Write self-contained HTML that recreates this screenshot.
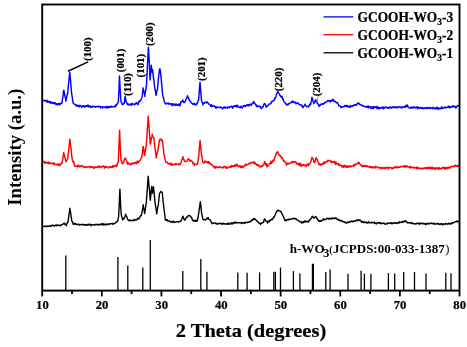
<!DOCTYPE html>
<html><head><meta charset="utf-8"><title>XRD</title>
<style>
html,body{margin:0;padding:0;background:#fff}
body{width:467px;height:347px;position:relative;overflow:hidden}
svg text{font-family:"Liberation Serif","Times New Roman",serif;font-weight:bold;fill:#000}
</style></head><body>
<svg width="467" height="347" viewBox="0 0 467 347" style="position:absolute;left:0;top:0">
<line x1="65.8" y1="255.5" x2="65.8" y2="290.6" stroke="#000" stroke-width="1.3"/>
<line x1="117.9" y1="257.0" x2="117.9" y2="290.6" stroke="#000" stroke-width="1.3"/>
<line x1="127.8" y1="265.4" x2="127.8" y2="290.6" stroke="#000" stroke-width="1.3"/>
<line x1="142.8" y1="267.5" x2="142.8" y2="290.6" stroke="#000" stroke-width="1.3"/>
<line x1="150.3" y1="239.9" x2="150.3" y2="290.6" stroke="#000" stroke-width="1.3"/>
<line x1="182.8" y1="271.1" x2="182.8" y2="290.6" stroke="#000" stroke-width="1.3"/>
<line x1="200.8" y1="258.9" x2="200.8" y2="290.6" stroke="#000" stroke-width="1.3"/>
<line x1="206.9" y1="271.8" x2="206.9" y2="290.6" stroke="#000" stroke-width="1.3"/>
<line x1="237.8" y1="272.4" x2="237.8" y2="290.6" stroke="#000" stroke-width="1.3"/>
<line x1="247.1" y1="272.7" x2="247.1" y2="290.6" stroke="#000" stroke-width="1.3"/>
<line x1="259.6" y1="272.4" x2="259.6" y2="290.6" stroke="#000" stroke-width="1.3"/>
<line x1="273.8" y1="271.8" x2="273.8" y2="290.6" stroke="#000" stroke-width="1.3"/>
<line x1="275.4" y1="271.8" x2="275.4" y2="290.6" stroke="#000" stroke-width="1.3"/>
<line x1="280.5" y1="267.6" x2="280.5" y2="290.6" stroke="#000" stroke-width="1.3"/>
<line x1="293.4" y1="271.1" x2="293.4" y2="290.6" stroke="#000" stroke-width="1.3"/>
<line x1="299.9" y1="273.4" x2="299.9" y2="290.6" stroke="#000" stroke-width="1.3"/>
<line x1="312.9" y1="263.7" x2="312.9" y2="290.6" stroke="#000" stroke-width="2.2"/>
<line x1="325.8" y1="272.0" x2="325.8" y2="290.6" stroke="#000" stroke-width="1.3"/>
<line x1="330.1" y1="269.5" x2="330.1" y2="290.6" stroke="#000" stroke-width="1.3"/>
<line x1="348.0" y1="273.7" x2="348.0" y2="290.6" stroke="#000" stroke-width="1.3"/>
<line x1="361.1" y1="270.8" x2="361.1" y2="290.6" stroke="#000" stroke-width="1.3"/>
<line x1="364.4" y1="273.7" x2="364.4" y2="290.6" stroke="#000" stroke-width="1.3"/>
<line x1="370.9" y1="273.7" x2="370.9" y2="290.6" stroke="#000" stroke-width="1.3"/>
<line x1="388.4" y1="273.1" x2="388.4" y2="290.6" stroke="#000" stroke-width="1.3"/>
<line x1="394.7" y1="273.6" x2="394.7" y2="290.6" stroke="#000" stroke-width="1.3"/>
<line x1="403.7" y1="272.1" x2="403.7" y2="290.6" stroke="#000" stroke-width="1.3"/>
<line x1="414.5" y1="272.1" x2="414.5" y2="290.6" stroke="#000" stroke-width="1.3"/>
<line x1="426.0" y1="273.4" x2="426.0" y2="290.6" stroke="#000" stroke-width="1.3"/>
<line x1="445.8" y1="272.7" x2="445.8" y2="290.6" stroke="#000" stroke-width="1.3"/>
<line x1="451.0" y1="273.3" x2="451.0" y2="290.6" stroke="#000" stroke-width="1.3"/>
<polyline points="43.0,226.5 43.5,226.6 44.0,226.3 44.5,226.1 45.0,226.2 45.5,226.0 46.0,226.4 46.5,226.8 47.0,226.1 47.5,226.0 48.0,226.4 48.5,226.3 49.0,226.2 49.5,225.8 50.0,226.1 50.5,226.4 51.0,225.5 51.5,225.8 52.0,225.2 52.5,225.5 53.0,225.2 53.5,225.8 54.0,225.4 54.5,226.0 55.0,225.9 55.5,225.7 56.0,224.7 56.5,225.5 57.0,225.7 57.5,225.7 58.0,225.0 58.5,225.4 59.0,225.2 59.5,225.2 60.0,225.9 60.2,225.2 60.5,225.3 61.0,225.5 61.5,224.6 62.0,224.6 62.5,224.4 63.0,224.1 63.5,223.4 64.0,223.6 64.2,224.0 64.5,223.1 65.0,224.4 65.5,224.5 66.0,224.5 66.2,225.7 66.5,224.7 67.0,223.1 67.5,222.8 68.0,222.2 68.5,218.2 69.0,214.9 69.5,210.9 69.9,208.3 70.0,209.3 70.5,211.8 71.0,215.6 71.5,218.8 71.8,221.1 72.0,220.9 72.5,222.1 73.0,223.2 73.3,224.3 73.5,224.4 74.0,223.4 74.5,223.7 75.0,224.3 75.5,223.3 76.0,224.0 76.5,224.2 77.0,224.8 77.5,224.6 78.0,224.3 78.5,224.3 79.0,224.4 79.5,225.2 80.0,224.4 80.5,224.5 81.0,224.8 81.5,224.6 82.0,224.6 82.5,224.2 83.0,224.7 83.5,224.5 84.0,225.2 84.5,225.0 85.0,224.7 85.5,225.0 86.0,224.6 86.5,225.2 87.0,224.8 87.5,225.0 88.0,224.3 88.5,225.0 89.0,224.2 89.5,224.1 90.0,224.8 90.4,224.5 90.5,225.0 91.0,225.8 91.5,224.5 92.0,224.6 92.5,224.9 93.0,225.0 93.5,224.7 94.0,224.7 94.5,225.1 95.0,225.0 95.5,224.3 96.0,224.7 96.5,224.7 97.0,224.3 97.5,224.8 98.0,224.3 98.5,225.1 99.0,224.7 99.5,224.7 100.0,224.4 100.5,224.6 101.0,223.8 101.5,224.1 102.0,224.7 102.5,223.7 103.0,224.9 103.5,223.8 104.0,224.8 104.5,224.2 105.0,224.8 105.5,224.5 106.0,223.8 106.5,224.8 107.0,224.9 107.5,224.2 108.0,224.1 108.5,224.1 109.0,223.7 109.5,224.5 110.0,223.8 110.5,223.9 111.0,223.6 111.5,223.6 112.0,223.3 112.5,224.2 113.0,223.6 113.5,224.0 114.0,223.6 114.5,223.2 114.7,223.4 115.0,223.1 115.5,222.9 116.0,222.4 116.5,222.1 117.0,221.3 117.5,221.2 118.0,220.1 118.5,217.1 118.6,216.6 119.0,209.1 119.2,205.6 119.5,197.6 119.9,189.1 120.0,191.2 120.5,202.0 120.6,205.3 121.0,210.7 121.3,215.0 121.5,215.4 122.0,217.6 122.5,219.0 122.7,219.8 123.0,219.1 123.5,218.5 124.0,218.9 124.3,217.8 124.5,217.6 125.0,216.3 125.5,214.9 125.8,214.2 126.0,215.2 126.5,216.2 127.0,217.6 127.5,219.0 128.0,219.9 128.5,220.2 129.0,220.6 129.1,220.3 129.5,219.9 130.0,220.8 130.5,220.7 131.0,220.2 131.5,220.5 132.0,220.5 132.5,220.5 133.0,220.5 133.5,219.9 134.0,220.6 134.5,219.4 135.0,220.1 135.5,219.8 136.0,219.8 136.5,220.0 137.0,219.7 137.5,218.5 138.0,218.2 138.5,219.0 139.0,218.2 139.2,218.5 139.5,218.4 140.0,216.6 140.5,215.7 141.0,215.9 141.5,215.0 142.0,212.1 142.5,209.4 143.0,206.2 143.2,204.8 143.5,207.0 144.0,209.6 144.5,212.2 144.6,213.6 145.0,210.9 145.5,208.1 146.0,204.4 146.3,202.7 146.5,199.8 147.0,192.7 147.5,186.1 148.0,178.6 148.2,176.2 148.5,179.7 149.0,186.1 149.5,190.5 150.0,197.2 150.3,200.3 150.5,198.3 151.0,192.7 151.5,188.0 151.7,186.5 152.0,188.8 152.5,193.2 153.0,189.6 153.5,186.7 154.0,191.8 154.5,196.5 155.0,202.7 155.5,205.3 156.0,207.8 156.5,212.0 156.7,213.9 157.0,211.8 157.5,208.7 158.0,206.2 158.3,205.5 158.5,203.1 159.0,198.3 159.5,193.5 160.0,192.7 160.5,192.3 161.0,191.4 161.5,192.0 162.0,192.2 162.3,193.2 162.5,194.7 163.0,200.4 163.5,204.5 163.8,207.9 164.0,209.4 164.5,212.5 165.0,217.3 165.4,220.1 165.5,219.4 166.0,220.2 166.5,220.3 167.0,219.4 167.5,220.8 168.0,221.0 168.5,221.1 169.0,220.8 169.5,221.2 170.0,221.3 170.5,222.0 171.0,221.7 171.5,221.7 172.0,222.4 172.5,221.7 173.0,221.7 173.5,221.1 174.0,222.5 174.5,222.2 175.0,222.1 175.5,222.0 176.0,221.8 176.5,221.8 177.0,221.6 177.5,221.6 178.0,221.6 178.5,222.2 179.0,221.8 179.5,221.5 180.0,221.3 180.5,221.2 181.0,221.1 181.5,219.7 182.0,218.5 182.5,217.4 183.0,216.1 183.5,217.7 184.0,219.3 184.5,220.1 184.6,220.4 185.0,219.8 185.5,219.2 186.0,217.8 186.5,217.6 187.0,216.7 187.5,216.9 188.0,215.7 188.5,215.7 189.0,215.6 189.5,215.4 190.0,215.8 190.5,216.6 191.0,217.0 191.5,217.4 192.0,218.8 192.5,220.2 193.0,220.1 193.5,220.9 193.6,220.7 194.0,221.2 194.5,220.5 195.0,220.4 195.5,221.3 196.0,220.3 196.5,221.1 197.0,221.2 197.3,220.6 197.5,219.7 198.0,217.8 198.5,214.4 198.8,212.8 199.0,210.9 199.5,207.6 200.0,204.2 200.3,201.7 200.5,202.7 201.0,207.3 201.5,211.9 201.6,213.1 202.0,214.8 202.5,217.2 203.0,219.6 203.1,219.8 203.5,219.8 204.0,219.7 204.5,219.5 205.0,219.6 205.5,220.0 206.0,219.3 206.5,219.0 207.0,218.1 207.5,218.8 208.0,217.7 208.4,217.8 208.5,218.9 209.0,219.4 209.5,219.7 210.0,219.7 210.5,220.8 211.0,221.3 211.5,222.4 212.0,223.7 212.5,223.5 213.0,223.1 213.5,223.0 214.0,223.4 214.5,223.4 215.0,223.0 215.5,223.6 216.0,223.1 216.5,224.0 217.0,224.0 217.5,224.0 218.0,223.4 218.5,223.8 219.0,223.6 219.5,223.5 220.0,223.6 220.5,223.2 221.0,223.2 221.5,224.1 222.0,223.7 222.5,223.9 223.0,224.2 223.5,223.1 224.0,223.5 224.5,223.9 225.0,224.0 225.5,223.8 226.0,224.3 226.5,224.0 227.0,223.5 227.5,223.6 227.8,224.3 228.0,224.1 228.5,223.1 229.0,224.3 229.5,223.9 230.0,224.1 230.5,223.3 231.0,223.2 231.5,222.8 232.0,224.2 232.5,223.0 233.0,223.6 233.5,222.6 234.0,222.8 234.5,222.0 234.8,222.4 235.0,223.0 235.5,222.2 236.0,223.1 236.5,222.9 237.0,222.4 237.5,222.6 238.0,222.7 238.5,222.9 239.0,222.7 239.5,222.7 240.0,222.9 240.5,222.7 241.0,222.6 241.5,223.2 241.8,223.6 242.0,222.6 242.5,223.1 243.0,222.8 243.5,222.5 244.0,223.2 244.5,222.6 245.0,223.3 245.5,222.3 246.0,222.7 246.5,222.4 247.0,222.1 247.5,222.6 248.0,222.2 248.5,222.4 249.0,222.1 249.5,221.6 249.6,222.0 250.0,221.8 250.5,221.8 251.0,220.7 251.5,220.8 252.0,219.8 252.5,220.4 253.0,219.4 253.5,218.8 254.0,219.2 254.3,219.4 254.5,218.5 255.0,219.1 255.5,219.6 256.0,219.8 256.5,220.8 257.0,220.7 257.5,221.2 258.0,222.3 258.5,222.2 259.0,223.2 259.5,223.2 259.9,223.5 260.0,223.2 260.5,224.5 261.0,223.3 261.5,223.3 262.0,223.0 262.5,222.8 263.0,222.5 263.5,222.3 264.0,220.1 264.5,218.9 264.6,218.9 265.0,219.2 265.5,220.7 266.0,221.3 266.5,221.2 267.0,221.6 267.4,222.5 267.5,223.1 268.0,221.0 268.5,222.0 269.0,221.0 269.5,221.5 270.0,220.3 270.5,220.2 271.0,219.4 271.5,219.2 272.0,219.8 272.5,219.2 273.0,218.3 273.5,217.8 273.8,217.1 274.0,217.3 274.5,216.4 275.0,215.3 275.5,214.2 276.0,212.7 276.5,212.0 277.0,211.0 277.4,210.6 277.5,210.9 278.0,210.3 278.5,210.3 279.0,210.9 279.5,210.9 280.0,211.1 280.5,211.6 281.0,211.4 281.3,212.2 281.5,212.4 282.0,213.7 282.5,214.7 283.0,215.7 283.5,216.8 284.0,218.3 284.5,219.3 285.0,220.8 285.5,220.6 286.0,219.9 286.5,220.4 287.0,219.7 287.5,219.9 288.0,219.9 288.5,219.0 289.0,219.8 289.5,219.7 290.0,219.4 290.5,219.2 291.0,219.1 291.5,218.8 292.0,218.9 292.5,218.7 293.0,218.8 293.5,218.2 294.0,218.7 294.5,218.5 294.7,218.3 295.0,218.4 295.5,219.1 296.0,218.5 296.5,219.7 297.0,219.9 297.5,220.2 298.0,220.5 298.5,220.4 299.0,220.9 299.5,221.5 300.0,221.8 300.5,222.0 301.0,221.6 301.5,222.7 301.7,223.1 302.0,222.9 302.5,222.5 303.0,221.7 303.5,222.6 304.0,222.1 304.5,221.0 305.0,222.1 305.5,221.2 306.0,221.2 306.5,221.4 307.0,222.0 307.5,221.3 308.0,221.4 308.5,221.9 308.6,221.8 309.0,220.8 309.5,220.3 310.0,219.4 310.5,219.2 311.0,218.7 311.5,217.7 312.0,216.6 312.2,216.6 312.5,216.2 313.0,217.0 313.5,217.8 314.0,218.2 314.5,218.0 315.0,217.2 315.5,216.5 315.6,216.6 316.0,216.7 316.5,217.2 317.0,218.8 317.5,219.3 318.0,220.2 318.5,220.1 319.0,221.4 319.2,221.6 319.5,221.3 320.0,220.5 320.5,221.1 321.0,221.3 321.5,220.9 322.0,220.2 322.5,220.2 323.0,220.3 323.5,218.7 324.0,219.5 324.5,219.6 325.0,219.4 325.5,219.6 326.0,219.2 326.5,218.6 326.7,218.5 327.0,218.7 327.5,218.2 328.0,218.4 328.5,218.7 329.0,219.2 329.5,218.3 330.0,218.3 330.5,218.4 331.0,218.9 331.5,218.3 332.0,218.9 332.5,217.9 333.0,218.3 333.5,218.2 334.0,218.6 334.5,218.7 335.0,217.7 335.5,217.9 335.7,218.4 336.0,218.2 336.5,218.1 337.0,219.4 337.5,219.4 338.0,219.7 338.5,219.5 339.0,220.4 339.5,220.1 340.0,220.9 340.5,220.3 341.0,220.5 341.5,221.1 342.0,220.9 342.5,221.7 343.0,221.7 343.5,221.4 344.0,222.0 344.5,222.0 345.0,222.7 345.2,222.1 345.5,222.2 346.0,222.8 346.5,223.1 347.0,223.0 347.5,222.2 348.0,222.2 348.5,222.6 349.0,221.9 349.5,221.5 350.0,221.9 350.5,222.0 351.0,221.4 351.5,221.0 352.0,221.0 352.5,221.8 353.0,221.2 353.5,221.3 354.0,221.3 354.5,221.3 355.0,220.8 355.5,221.0 356.0,220.3 356.5,220.4 357.0,220.0 357.5,220.7 358.0,220.1 358.5,219.7 358.7,219.8 359.0,220.0 359.5,220.6 360.0,219.9 360.5,220.4 361.0,220.9 361.5,222.3 362.0,221.9 362.5,221.5 363.0,222.0 363.5,222.6 364.0,221.8 364.5,221.8 365.0,222.5 365.5,222.3 366.0,222.5 366.5,222.1 367.0,223.1 367.2,223.1 367.5,222.6 368.0,222.7 368.5,221.7 369.0,222.8 369.5,222.5 370.0,222.8 370.5,222.9 371.0,222.6 371.5,222.1 372.0,222.9 372.5,222.5 373.0,222.7 373.5,222.6 374.0,222.8 374.5,222.0 375.0,223.5 375.5,223.1 376.0,223.5 376.5,223.9 377.0,223.2 377.5,222.5 378.0,222.9 378.5,222.8 379.0,223.1 379.5,223.4 380.0,222.6 380.5,223.6 381.0,222.9 381.5,223.6 382.0,223.5 382.5,223.4 382.9,223.6 383.0,223.4 383.5,223.3 384.0,222.9 384.5,223.5 385.0,224.2 385.5,224.3 386.0,224.0 386.5,223.7 387.0,223.1 387.5,223.9 388.0,223.3 388.5,223.3 389.0,223.2 389.5,223.3 390.0,223.0 390.5,223.2 391.0,222.7 391.5,223.0 392.0,224.0 392.5,223.1 393.0,223.0 393.5,223.3 394.0,223.3 394.5,222.5 395.0,222.9 395.5,223.3 396.0,223.0 396.5,222.9 397.0,223.5 397.5,222.6 398.0,222.8 398.5,222.5 399.0,223.2 399.5,221.7 400.0,222.1 400.5,222.1 401.0,222.5 401.5,222.3 402.0,222.5 402.5,221.3 403.0,222.1 403.5,221.6 404.0,221.3 404.5,221.7 404.9,221.0 405.0,220.6 405.5,221.5 406.0,221.2 406.5,221.8 407.0,222.4 407.5,222.5 408.0,223.2 408.5,222.7 409.0,222.4 409.5,222.8 410.0,222.7 410.5,222.7 411.0,223.4 411.5,223.0 412.0,222.5 412.5,223.7 413.0,223.4 413.5,223.6 414.0,223.6 414.4,223.9 414.5,223.6 415.0,224.1 415.5,223.8 416.0,223.8 416.5,223.8 417.0,223.1 417.5,223.6 418.0,223.5 418.5,223.7 419.0,223.1 419.5,224.3 420.0,223.7 420.5,223.2 421.0,223.0 421.5,223.6 422.0,223.7 422.5,223.4 423.0,223.7 423.5,223.5 424.0,223.9 424.5,223.4 425.0,223.7 425.5,224.1 426.0,224.8 426.5,223.4 427.0,223.6 427.5,223.4 428.0,224.1 428.5,223.3 429.0,223.6 429.5,223.8 430.0,223.4 430.5,223.4 431.0,223.6 431.5,223.0 432.0,223.2 432.5,223.7 433.0,223.9 433.5,223.8 434.0,223.1 434.5,223.7 435.0,224.2 435.5,224.1 436.0,223.8 436.5,223.5 437.0,224.1 437.5,223.7 438.0,223.4 438.5,223.6 439.0,224.5 439.5,224.0 440.0,224.4 440.5,223.7 441.0,224.3 441.5,223.7 442.0,223.9 442.5,225.0 443.0,224.3 443.5,223.8 444.0,223.9 444.5,224.1 445.0,224.5 445.5,223.8 445.8,223.3 446.0,223.9 446.5,223.9 447.0,223.9 447.5,224.3 448.0,223.8 448.5,223.9 449.0,223.0 449.5,223.8 450.0,224.2 450.5,223.6 451.0,223.3 451.5,223.1 452.0,223.7 452.5,222.5 453.0,222.6 453.5,222.7 454.0,222.6 454.5,222.0 455.0,222.1 455.5,221.7 456.0,221.7 456.5,221.4 456.8,220.9 457.0,221.4 457.5,221.9 458.0,221.2 458.5,221.6 459.0,222.1" fill="none" stroke="#000" stroke-width="1.4" stroke-linejoin="round"/>
<polyline points="43.0,161.0 43.5,161.8 44.0,161.2 44.5,162.5 45.0,163.3 45.5,163.2 46.0,162.1 46.5,162.7 47.0,162.5 47.5,162.6 48.0,163.5 48.5,162.0 49.0,163.4 49.5,162.9 50.0,163.8 50.5,163.2 51.0,162.8 51.5,163.5 52.0,163.8 52.5,163.5 53.0,163.9 53.5,163.4 54.0,162.6 54.5,164.4 55.0,164.4 55.5,164.2 56.0,164.3 56.5,164.9 57.0,164.2 57.5,164.1 58.0,164.5 58.5,165.4 59.0,164.1 59.3,165.6 59.5,164.4 60.0,163.9 60.5,165.0 61.0,164.0 61.5,163.0 62.0,163.3 62.5,160.7 63.0,157.6 63.5,153.5 63.7,152.6 64.0,154.0 64.5,155.4 65.0,158.0 65.5,159.9 66.0,161.7 66.5,160.6 67.0,159.8 67.5,158.7 67.8,157.7 68.0,155.9 68.5,152.1 69.0,147.0 69.5,142.7 69.9,139.2 70.0,139.8 70.5,145.3 71.0,148.3 71.5,153.8 72.0,157.8 72.5,160.5 73.0,161.9 73.5,161.3 74.0,163.3 74.5,165.7 74.7,166.3 75.0,166.3 75.5,165.9 76.0,166.3 76.5,166.4 77.0,166.1 77.5,166.7 78.0,164.9 78.5,166.6 79.0,165.7 79.5,166.8 80.0,166.2 80.5,165.9 81.0,166.7 81.5,166.0 82.0,166.0 82.5,165.7 83.0,166.6 83.5,166.9 84.0,167.3 84.5,166.7 85.0,167.4 85.5,166.8 86.0,166.8 86.5,167.2 87.0,167.4 87.5,166.7 88.0,166.8 88.5,166.8 89.0,167.0 89.5,166.4 90.0,167.5 90.5,166.8 91.0,167.2 91.5,166.5 92.0,167.2 92.5,167.2 93.0,166.8 93.5,168.2 94.0,167.3 94.5,168.1 95.0,167.6 95.5,166.8 96.0,166.9 96.5,167.4 97.0,167.2 97.5,167.2 97.8,167.0 98.0,166.2 98.5,167.1 99.0,166.0 99.5,167.4 100.0,166.8 100.5,166.8 101.0,167.0 101.5,167.3 102.0,166.3 102.5,166.2 103.0,166.5 103.5,166.0 104.0,166.6 104.5,168.0 105.0,166.5 105.5,167.4 106.0,166.3 106.5,167.2 107.0,166.9 107.5,167.0 108.0,167.3 108.5,168.0 109.0,167.1 109.5,167.1 110.0,166.5 110.5,167.2 111.0,166.7 111.5,167.2 112.0,166.6 112.5,167.5 113.0,165.4 113.5,166.2 114.0,166.8 114.5,166.0 115.0,165.7 115.5,165.9 116.0,165.2 116.1,166.0 116.5,166.7 117.0,165.3 117.5,163.4 118.0,162.8 118.2,162.8 118.5,157.1 118.9,147.5 119.0,145.0 119.5,132.9 119.6,130.3 120.0,140.0 120.3,147.4 120.5,150.7 121.0,160.1 121.5,160.4 122.0,163.2 122.5,163.7 123.0,163.1 123.5,162.7 124.0,161.2 124.5,158.8 125.0,158.7 125.2,158.4 125.5,158.1 126.0,159.3 126.5,161.0 127.0,161.4 127.5,164.3 128.0,162.4 128.5,163.3 129.0,163.9 129.5,164.1 130.0,164.6 130.1,164.6 130.5,164.3 131.0,164.8 131.5,162.9 132.0,163.9 132.5,163.4 133.0,163.7 133.5,163.6 134.0,162.8 134.5,162.8 135.0,163.4 135.5,163.0 136.0,162.1 136.5,163.4 137.0,163.3 137.5,161.0 138.0,161.7 138.5,162.7 139.0,161.5 139.5,161.0 140.0,160.5 140.2,160.2 140.5,159.6 141.0,158.2 141.5,157.7 142.0,155.8 142.5,151.8 143.0,147.3 143.2,146.4 143.5,147.8 144.0,151.4 144.5,155.3 144.6,155.6 145.0,153.2 145.5,150.1 146.0,146.9 146.3,144.9 146.5,141.8 147.0,134.8 147.5,126.2 148.0,119.9 148.2,116.1 148.5,119.7 149.0,126.6 149.5,133.2 150.0,140.4 150.3,143.9 150.5,144.0 151.0,140.7 151.5,137.7 152.0,136.2 152.3,134.2 152.5,135.7 153.0,137.2 153.5,137.9 153.9,137.6 154.0,138.8 154.5,144.6 155.0,148.2 155.5,151.3 156.0,155.1 156.3,157.8 156.5,156.4 157.0,153.9 157.5,152.1 158.0,150.3 158.5,146.3 159.0,142.8 159.5,140.0 160.0,139.1 160.5,139.2 161.0,139.0 161.5,140.9 162.0,139.8 162.5,140.9 163.0,145.2 163.5,149.9 164.0,154.6 164.5,156.4 165.0,158.9 165.4,160.6 165.5,161.1 166.0,162.3 166.5,162.4 167.0,162.2 167.5,162.9 168.0,163.5 168.5,163.9 169.0,163.5 169.5,163.8 170.0,163.1 170.5,163.6 171.0,165.3 171.5,163.4 172.0,164.6 172.5,165.0 173.0,164.6 173.5,164.3 174.0,164.7 174.5,164.7 175.0,164.6 175.5,163.5 176.0,164.4 176.5,163.9 177.0,164.1 177.5,164.4 178.0,164.6 178.5,164.7 179.0,163.8 179.5,164.6 180.0,164.6 180.5,163.5 181.0,162.6 181.5,160.7 182.0,159.6 182.5,159.0 183.0,156.7 183.5,158.9 184.0,159.7 184.5,161.0 185.0,161.5 185.5,161.5 186.0,161.5 186.5,161.6 187.0,161.2 187.5,160.1 188.0,159.6 188.5,158.7 188.6,159.3 189.0,159.3 189.5,160.1 190.0,161.2 190.5,160.6 191.0,160.2 191.5,161.1 192.0,161.3 192.5,161.9 193.0,163.8 193.5,163.8 194.0,163.3 194.5,165.0 194.7,165.6 195.0,164.6 195.5,164.1 196.0,164.1 196.5,164.2 197.0,164.1 197.5,164.2 198.0,160.9 198.5,157.6 198.8,155.7 199.0,153.1 199.5,146.2 200.0,141.4 200.1,140.5 200.5,144.3 201.0,150.3 201.5,154.8 202.0,156.8 202.5,160.5 203.0,162.4 203.1,162.6 203.5,163.0 204.0,163.0 204.5,162.6 205.0,161.0 205.5,161.9 206.0,162.0 206.5,161.6 207.0,162.2 207.5,162.7 208.0,161.8 208.4,161.4 208.5,163.2 209.0,162.3 209.5,162.3 210.0,163.5 210.5,164.1 211.0,163.9 211.5,165.1 212.0,164.9 212.5,165.1 213.0,166.1 213.5,166.9 213.9,166.5 214.0,167.0 214.5,166.8 215.0,168.4 215.5,166.5 216.0,167.6 216.5,166.9 217.0,166.8 217.5,167.3 218.0,167.4 218.5,167.7 219.0,167.2 219.5,166.7 220.0,166.7 220.5,167.3 221.0,167.4 221.5,167.8 222.0,167.3 222.5,167.7 223.0,168.0 223.5,167.2 224.0,166.3 224.5,166.5 225.0,166.4 225.5,168.1 226.0,166.8 226.5,167.9 227.0,167.6 227.5,168.2 227.8,167.9 228.0,167.2 228.5,167.0 229.0,167.1 229.5,167.0 230.0,166.5 230.5,166.7 231.0,167.5 231.5,165.5 232.0,166.5 232.5,165.7 233.0,166.2 233.5,166.5 234.0,165.9 234.5,166.2 235.0,164.8 235.5,166.2 236.0,165.1 236.2,165.7 236.5,165.6 237.0,164.2 237.5,165.3 238.0,166.0 238.5,166.8 239.0,166.3 239.5,166.4 240.0,165.6 240.5,167.3 241.0,167.6 241.5,166.7 241.8,166.7 242.0,165.8 242.5,167.0 243.0,167.7 243.5,166.4 244.0,166.5 244.5,165.9 245.0,164.8 245.5,165.8 246.0,164.2 246.5,164.5 246.8,164.7 247.0,164.9 247.5,164.6 248.0,164.4 248.5,163.7 249.0,163.2 249.5,163.8 250.0,163.3 250.5,162.8 251.0,162.7 251.5,163.0 252.0,162.2 252.5,162.3 253.0,162.0 253.5,162.9 254.0,162.9 254.3,163.7 254.5,161.9 255.0,162.8 255.5,164.0 256.0,163.8 256.5,164.1 257.0,165.6 257.5,164.8 258.0,164.7 258.5,165.0 259.0,166.3 259.5,166.7 259.9,166.0 260.0,166.2 260.5,166.9 261.0,166.8 261.5,166.0 262.0,166.6 262.5,166.4 263.0,165.0 263.5,164.8 264.0,164.1 264.5,162.5 264.6,161.4 265.0,162.9 265.5,164.1 266.0,165.1 266.5,163.6 267.0,166.9 267.4,165.3 267.5,166.3 268.0,166.0 268.5,165.4 269.0,164.5 269.5,163.3 270.0,163.8 270.5,162.6 271.0,161.1 271.5,163.5 272.0,161.9 272.5,162.0 273.0,160.1 273.5,160.9 273.8,160.7 274.0,160.2 274.5,158.3 275.0,156.5 275.5,156.0 276.0,153.8 276.5,153.0 277.0,152.9 277.4,151.5 277.5,152.0 278.0,152.7 278.5,154.5 279.0,154.8 279.5,154.8 280.0,156.1 280.5,155.7 281.0,156.6 281.5,158.0 282.0,157.5 282.2,158.2 282.5,158.1 283.0,159.6 283.5,161.1 284.0,160.4 284.5,161.7 285.0,161.7 285.5,162.3 286.0,162.9 286.3,164.8 286.5,165.3 287.0,164.1 287.5,163.3 288.0,164.0 288.5,163.3 289.0,163.8 289.5,163.4 290.0,163.3 290.5,163.3 291.0,162.6 291.5,162.5 292.0,161.7 292.5,162.3 293.0,161.6 293.5,162.2 294.0,161.6 294.5,162.1 294.7,162.2 295.0,161.4 295.5,161.9 296.0,162.1 296.5,163.3 297.0,164.1 297.5,163.8 298.0,163.4 298.5,164.7 299.0,163.3 299.5,165.2 300.0,164.2 300.5,163.3 301.0,166.5 301.5,166.2 301.7,164.8 302.0,165.5 302.5,165.2 303.0,165.3 303.5,164.4 304.0,164.8 304.5,165.4 305.0,165.2 305.5,165.7 306.0,165.1 306.5,166.3 307.0,164.5 307.5,165.0 308.0,163.8 308.5,164.1 308.6,165.5 309.0,163.9 309.5,164.2 310.0,163.4 310.5,162.4 311.0,161.0 311.5,159.2 312.0,157.4 312.2,157.4 312.5,158.2 313.0,158.9 313.5,160.1 314.0,162.2 314.2,162.5 314.5,162.4 315.0,162.1 315.5,159.8 316.0,158.1 316.1,157.8 316.5,158.3 317.0,159.4 317.5,160.5 318.0,161.9 318.5,163.0 319.0,164.8 319.2,164.6 319.5,164.5 320.0,163.8 320.5,165.1 321.0,164.2 321.5,164.7 322.0,163.9 322.5,164.1 323.0,162.9 323.5,163.2 324.0,164.0 324.5,161.7 325.0,162.7 325.5,162.8 326.0,161.9 326.5,161.8 327.0,161.9 327.5,160.6 327.9,161.0 328.0,160.3 328.5,160.5 329.0,160.7 329.5,161.0 330.0,161.3 330.5,161.6 331.0,160.6 331.5,162.7 332.0,162.3 332.5,162.2 333.0,161.7 333.5,161.9 334.0,162.4 334.2,162.3 334.5,161.3 335.0,162.9 335.5,164.4 336.0,162.0 336.5,163.8 337.0,163.7 337.5,163.7 338.0,164.8 338.5,163.6 339.0,164.6 339.5,165.6 340.0,164.9 340.5,165.0 341.0,165.6 341.5,165.5 342.0,166.9 342.5,165.7 343.0,167.0 343.5,166.0 343.6,167.2 344.0,166.7 344.5,165.3 345.0,166.7 345.5,166.0 346.0,166.3 346.5,167.4 347.0,165.8 347.5,165.8 348.0,167.2 348.5,166.4 349.0,167.2 349.5,166.4 350.0,165.7 350.5,166.1 351.0,166.8 351.5,166.6 352.0,166.0 352.5,165.8 353.0,165.5 353.5,165.0 354.0,166.2 354.5,164.9 355.0,164.0 355.5,164.2 356.0,164.6 356.5,164.3 357.0,163.7 357.5,163.2 358.0,163.3 358.5,162.1 358.7,162.3 359.0,163.7 359.5,163.3 360.0,164.2 360.5,165.1 361.0,165.1 361.5,165.1 362.0,166.7 362.5,166.0 363.0,165.5 363.5,166.3 364.0,166.2 364.5,165.6 365.0,166.3 365.5,166.3 366.0,165.4 366.5,166.5 367.0,166.6 367.2,166.6 367.5,165.9 368.0,166.7 368.5,166.9 369.0,167.0 369.5,166.3 370.0,167.4 370.5,166.4 371.0,167.0 371.5,167.9 372.0,166.8 372.5,166.9 373.0,167.9 373.5,167.1 374.0,167.2 374.5,167.5 375.0,168.0 375.5,166.2 376.0,167.0 376.5,166.9 377.0,166.9 377.5,167.1 378.0,167.2 378.5,167.8 379.0,167.2 379.5,167.8 380.0,168.0 380.5,167.4 381.0,167.9 381.5,168.8 382.0,168.1 382.5,167.6 382.9,168.0 383.0,167.5 383.5,168.1 384.0,168.4 384.5,167.5 385.0,167.8 385.5,168.5 386.0,167.6 386.5,168.0 387.0,167.3 387.5,167.4 388.0,167.5 388.5,169.0 389.0,167.6 389.5,167.5 390.0,167.5 390.5,167.7 391.0,168.1 391.5,167.8 392.0,168.8 392.5,167.8 393.0,168.5 393.5,167.8 394.0,168.0 394.5,166.8 395.0,167.5 395.5,167.5 396.0,167.4 396.5,166.4 397.0,168.0 397.5,167.3 398.0,167.3 398.5,167.3 399.0,167.2 399.5,167.4 400.0,166.4 400.5,166.5 401.0,167.1 401.5,166.9 402.0,166.5 402.5,166.3 403.0,166.1 403.5,166.4 404.0,167.0 404.5,165.7 404.9,167.0 405.0,166.7 405.5,166.1 406.0,167.0 406.5,165.9 407.0,165.9 407.5,166.3 408.0,167.0 408.5,167.2 409.0,167.2 409.5,167.6 410.0,166.4 410.5,167.9 411.0,166.9 411.5,167.4 412.0,167.6 412.5,167.2 413.0,167.1 413.5,167.4 414.0,168.0 414.4,168.3 414.5,168.3 415.0,167.5 415.5,167.6 416.0,167.5 416.5,168.3 417.0,166.9 417.5,168.7 418.0,167.8 418.5,167.6 419.0,168.3 419.5,168.6 420.0,168.3 420.5,168.7 421.0,168.2 421.5,168.8 422.0,168.8 422.5,168.1 423.0,168.9 423.5,168.2 424.0,168.2 424.5,167.7 425.0,168.0 425.5,168.6 426.0,167.5 426.5,168.6 427.0,168.4 427.5,168.4 428.0,167.0 428.5,168.2 429.0,168.6 429.5,167.8 430.0,168.3 430.5,166.9 431.0,168.6 431.5,167.9 432.0,168.8 432.5,167.3 433.0,168.7 433.5,168.2 434.0,168.8 434.5,167.8 435.0,168.0 435.5,169.6 436.0,167.9 436.5,168.0 437.0,168.2 437.5,167.8 438.0,169.0 438.5,169.3 439.0,168.0 439.5,167.5 440.0,169.0 440.5,168.9 441.0,168.7 441.5,168.9 442.0,167.7 442.5,168.1 443.0,167.3 443.5,167.3 444.0,168.6 444.5,167.6 445.0,169.2 445.5,167.9 446.0,167.5 446.5,168.2 447.0,168.7 447.5,168.0 448.0,167.0 448.5,167.8 449.0,168.3 449.5,167.3 450.0,167.1 450.5,167.9 451.0,167.2 451.5,166.4 452.0,166.6 452.5,166.2 453.0,166.6 453.5,166.4 454.0,166.8 454.5,166.4 455.0,164.9 455.5,165.9 455.9,166.0 456.0,165.8 456.5,166.3 457.0,165.6 457.5,165.5 458.0,166.7 458.5,165.8 459.0,165.3" fill="none" stroke="#f00" stroke-width="1.45" stroke-linejoin="round"/>
<polyline points="43.0,101.4 43.5,100.5 44.0,100.8 44.5,100.3 45.0,100.5 45.5,100.7 46.0,101.2 46.5,101.7 47.0,100.3 47.5,102.1 48.0,101.1 48.5,101.3 49.0,102.4 49.5,102.1 50.0,101.4 50.5,103.3 51.0,101.9 51.5,102.6 52.0,102.7 52.5,103.5 53.0,102.6 53.5,103.5 54.0,102.6 54.5,103.7 55.0,102.8 55.5,103.1 56.0,104.5 56.5,103.7 57.0,103.7 57.5,104.9 58.0,104.0 58.5,103.5 59.0,104.4 59.5,103.5 59.9,104.8 60.0,104.8 60.5,103.5 61.0,103.2 61.5,103.4 62.0,103.0 62.5,99.0 63.0,96.3 63.5,91.4 63.8,90.2 64.0,91.2 64.5,93.7 65.0,96.5 65.5,98.1 65.9,101.1 66.0,100.3 66.5,98.0 67.0,95.6 67.5,93.7 67.6,94.2 68.0,89.2 68.5,84.3 69.0,79.5 69.5,74.1 69.7,72.3 70.0,74.6 70.5,79.9 71.0,86.7 71.5,92.0 71.6,93.6 72.0,95.5 72.5,99.3 73.0,102.2 73.2,103.4 73.5,103.5 74.0,103.8 74.5,104.1 75.0,104.4 75.5,105.2 76.0,104.7 76.5,106.1 77.0,105.2 77.5,105.9 78.0,105.5 78.5,105.5 79.0,106.9 79.5,105.7 80.0,105.3 80.5,105.6 81.0,105.9 81.5,107.2 82.0,106.2 82.5,106.6 83.0,105.6 83.5,106.3 84.0,106.5 84.5,107.2 85.0,105.8 85.5,106.5 86.0,106.4 86.5,105.7 87.0,106.3 87.5,106.1 88.0,105.0 88.5,106.7 89.0,106.7 89.5,106.1 90.0,105.7 90.5,107.2 91.0,106.6 91.5,107.0 92.0,107.2 92.5,106.2 93.0,107.0 93.5,106.4 94.0,106.5 94.5,106.5 95.0,106.6 95.5,107.2 96.0,106.7 96.5,106.6 97.0,106.5 97.5,106.9 98.0,106.2 98.5,106.4 99.0,106.7 99.5,106.5 100.0,106.7 100.4,106.5 100.5,107.9 101.0,107.5 101.5,107.1 102.0,106.8 102.5,108.0 103.0,107.0 103.5,106.8 104.0,107.0 104.5,107.0 105.0,107.6 105.5,106.9 106.0,108.0 106.5,106.4 107.0,107.3 107.5,106.4 108.0,107.9 108.5,106.7 109.0,106.9 109.5,107.4 110.0,107.6 110.5,106.3 111.0,106.8 111.5,106.2 112.0,107.0 112.5,106.9 113.0,106.8 113.5,106.6 114.0,106.8 114.5,106.2 115.0,106.6 115.5,106.8 116.0,104.6 116.2,105.4 116.5,104.8 117.0,104.6 117.5,103.1 118.0,102.8 118.3,101.9 118.5,99.0 118.9,91.1 119.0,88.4 119.5,75.9 120.0,86.5 120.2,90.1 120.5,95.3 121.0,101.7 121.5,102.3 122.0,103.8 122.5,104.8 123.0,104.4 123.5,103.5 124.0,103.7 124.4,102.8 124.5,100.9 125.0,97.4 125.2,96.3 125.5,98.2 126.0,100.5 126.2,102.5 126.5,102.3 127.0,103.1 127.5,104.5 128.0,103.8 128.5,104.4 129.0,104.9 129.5,105.0 130.0,104.3 130.5,104.4 131.0,103.8 131.5,105.2 132.0,104.5 132.5,103.4 133.0,104.0 133.5,104.3 134.0,104.1 134.5,104.8 135.0,104.4 135.5,103.3 136.0,103.5 136.5,102.7 137.0,103.5 137.5,103.4 138.0,104.7 138.5,102.8 139.0,101.1 139.5,101.4 140.0,101.4 140.5,100.2 141.0,99.9 141.5,98.5 142.0,97.2 142.3,95.9 142.5,93.6 143.0,89.6 143.1,87.9 143.5,89.8 144.0,91.6 144.5,94.2 144.8,96.4 145.0,93.8 145.5,91.4 146.0,88.6 146.5,84.8 147.0,75.0 147.5,64.2 148.0,55.4 148.4,47.2 148.5,48.6 149.0,57.1 149.5,67.0 150.0,77.6 150.1,79.9 150.5,74.7 151.0,69.6 151.3,65.2 151.5,67.3 152.0,72.0 152.5,71.2 152.7,69.7 153.0,73.6 153.5,78.1 153.8,79.4 154.0,80.9 154.5,86.0 155.0,89.6 155.5,91.2 156.0,95.4 156.5,92.8 157.0,90.1 157.5,89.2 158.0,83.1 158.5,77.6 158.8,75.1 159.0,73.1 159.5,70.0 159.8,68.7 160.0,69.3 160.5,72.1 160.8,74.9 161.0,76.7 161.5,82.2 161.7,84.3 162.0,87.6 162.5,93.7 162.6,94.0 163.0,96.9 163.5,97.7 164.0,100.4 164.3,101.2 164.5,102.0 165.0,102.9 165.5,103.9 166.0,103.2 166.5,103.7 167.0,103.6 167.5,103.4 168.0,103.2 168.5,104.0 169.0,103.1 169.5,104.2 170.0,104.2 170.5,103.9 171.0,103.8 171.5,103.7 172.0,105.5 172.5,103.8 173.0,105.4 173.5,104.8 174.0,104.3 174.5,103.9 175.0,105.1 175.5,105.5 176.0,104.0 176.5,104.4 177.0,105.1 177.5,104.8 178.0,105.7 178.5,104.3 179.0,104.9 179.5,103.9 180.0,105.8 180.5,103.4 181.0,101.7 181.5,102.0 182.0,101.2 182.5,101.5 182.7,99.9 183.0,100.5 183.5,101.5 184.0,102.7 184.5,102.5 185.0,102.0 185.5,100.7 186.0,99.2 186.5,98.3 187.0,97.3 187.5,95.7 188.0,97.8 188.5,97.4 189.0,99.7 189.5,100.6 190.0,101.0 190.3,101.2 190.5,101.7 191.0,102.5 191.5,103.1 192.0,103.3 192.5,104.1 193.0,103.7 193.5,104.2 194.0,103.2 194.5,104.6 195.0,104.3 195.5,104.0 196.0,104.9 196.5,104.7 197.0,102.9 197.5,103.0 198.0,100.7 198.5,100.6 199.0,95.4 199.5,87.8 200.0,82.2 200.5,88.0 201.0,94.3 201.5,100.4 202.0,102.2 202.5,102.5 202.8,104.9 203.0,103.3 203.5,103.5 204.0,103.6 204.3,103.1 204.5,102.2 205.0,102.2 205.5,102.3 206.0,102.5 206.5,103.1 207.0,101.7 207.5,102.6 207.6,102.6 208.0,103.0 208.5,103.4 209.0,104.5 209.5,104.4 210.0,105.0 210.5,105.3 211.0,106.5 211.5,104.6 212.0,106.6 212.5,105.9 213.0,106.1 213.5,105.9 214.0,105.6 214.5,106.6 215.0,106.7 215.5,107.5 216.0,106.6 216.2,108.3 216.5,107.7 217.0,107.4 217.5,107.2 218.0,107.1 218.5,107.0 219.0,107.3 219.5,107.7 220.0,107.6 220.5,106.9 221.0,107.6 221.5,107.3 222.0,107.9 222.5,108.8 223.0,108.2 223.5,107.7 224.0,107.0 224.5,107.1 224.9,107.0 225.0,108.3 225.5,107.4 226.0,107.8 226.5,107.4 227.0,107.7 227.5,108.3 228.0,107.1 228.5,107.3 229.0,106.9 229.5,107.8 230.0,106.7 230.5,106.6 231.0,106.4 231.5,106.3 232.0,107.3 232.5,108.3 233.0,106.2 233.5,107.1 234.0,106.6 234.5,105.7 235.0,106.0 235.5,105.9 236.0,105.5 236.5,107.1 237.0,105.1 237.5,106.6 238.0,106.7 238.5,106.3 239.0,106.9 239.5,107.4 240.0,107.2 240.4,107.4 240.5,107.6 241.0,105.9 241.5,107.7 242.0,108.1 242.5,107.2 243.0,107.1 243.5,105.7 244.0,106.2 244.5,105.7 245.0,105.7 245.5,106.5 246.0,105.4 246.5,105.6 247.0,104.5 247.5,105.4 248.0,105.4 248.1,104.9 248.5,104.8 249.0,106.1 249.5,104.2 250.0,104.2 250.5,104.2 251.0,105.2 251.5,105.2 252.0,103.8 252.5,102.8 253.0,102.5 253.5,102.9 253.9,101.5 254.0,102.9 254.5,103.6 255.0,103.5 255.5,104.5 256.0,105.2 256.5,106.4 256.8,105.3 257.0,106.6 257.5,105.9 258.0,105.9 258.5,106.6 259.0,106.6 259.5,106.3 260.0,106.2 260.5,106.7 261.0,108.2 261.5,108.6 261.6,108.0 262.0,108.0 262.5,106.7 263.0,106.7 263.3,106.7 263.5,105.4 264.0,104.1 264.5,103.5 265.0,104.1 265.5,104.6 266.0,106.3 266.4,106.7 266.5,107.3 267.0,106.3 267.5,105.7 268.0,105.5 268.5,104.9 269.0,104.1 269.5,103.9 270.0,104.1 270.5,103.6 271.0,103.5 271.5,101.4 272.0,101.7 272.5,101.2 273.0,101.1 273.5,100.4 274.0,99.9 274.2,100.4 274.5,99.4 275.0,97.5 275.5,97.7 276.0,96.4 276.5,94.4 277.0,93.6 277.5,91.2 277.6,91.9 278.0,91.9 278.5,92.5 279.0,93.6 279.5,94.3 280.0,95.5 280.5,96.2 281.0,96.8 281.5,97.1 282.0,96.1 282.5,98.9 283.0,98.6 283.5,100.5 284.0,101.8 284.5,102.1 285.0,102.6 285.5,103.5 286.0,104.3 286.4,104.7 286.5,104.6 287.0,104.2 287.5,105.0 288.0,104.1 288.5,104.4 289.0,103.4 289.5,103.3 290.0,102.9 290.5,102.9 291.0,102.8 291.5,102.2 292.0,101.4 292.5,101.0 292.6,102.3 293.0,101.4 293.5,101.5 294.0,102.7 294.5,102.6 295.0,102.5 295.5,102.1 296.0,103.8 296.5,103.0 297.0,103.4 297.5,103.3 298.0,102.9 298.5,103.3 299.0,104.5 299.5,104.8 300.0,104.8 300.5,104.6 301.0,104.7 301.5,105.7 302.0,105.3 302.1,106.7 302.5,106.8 303.0,107.8 303.5,106.7 304.0,105.9 304.5,105.7 305.0,104.3 305.5,105.9 306.0,106.1 306.5,106.7 307.0,106.5 307.5,106.5 308.0,106.3 308.5,106.6 308.8,107.0 309.0,105.4 309.5,105.0 310.0,103.9 310.5,104.9 311.0,102.7 311.5,100.4 312.0,97.3 312.1,97.7 312.5,98.9 313.0,100.9 313.5,102.6 313.7,103.7 314.0,102.7 314.5,102.5 315.0,101.4 315.5,100.2 315.8,99.8 316.0,100.1 316.5,101.8 317.0,102.3 317.5,103.7 318.0,104.0 318.5,104.2 319.0,106.2 319.1,105.3 319.5,106.1 320.0,105.7 320.5,104.3 321.0,104.5 321.5,104.4 322.0,104.0 322.5,103.6 323.0,104.4 323.5,103.6 324.0,103.6 324.5,102.8 325.0,102.9 325.5,102.0 326.0,102.1 326.5,102.1 327.0,101.5 327.5,100.9 327.8,100.4 328.0,101.1 328.5,101.1 329.0,100.8 329.5,100.4 330.0,101.1 330.5,102.1 331.0,100.6 331.5,100.9 332.0,100.8 332.5,99.2 333.0,100.6 333.5,100.1 334.0,101.6 334.5,101.1 335.0,101.1 335.5,101.8 336.0,102.4 336.5,102.3 337.0,103.0 337.5,102.7 338.0,103.8 338.5,104.8 339.0,105.9 339.5,105.7 340.0,105.9 340.5,106.8 341.0,107.2 341.2,107.7 341.5,107.4 342.0,106.7 342.5,106.9 343.0,106.8 343.5,106.8 344.0,106.8 344.5,106.2 345.0,105.4 345.5,106.2 346.0,105.4 346.5,106.6 347.0,106.5 347.5,105.5 348.0,106.8 348.5,106.8 349.0,106.3 349.5,107.2 350.0,107.2 350.5,105.5 351.0,106.7 351.5,106.3 352.0,106.2 352.5,106.4 352.8,105.5 353.0,105.5 353.5,105.2 354.0,105.1 354.5,105.4 355.0,104.5 355.5,104.6 356.0,105.3 356.5,104.7 357.0,104.6 357.5,103.0 358.0,103.3 358.5,103.2 358.6,103.4 359.0,103.3 359.5,104.5 360.0,104.3 360.5,104.7 361.0,105.0 361.5,105.6 362.0,105.1 362.5,106.1 363.0,106.0 363.5,106.0 364.0,106.1 364.4,106.5 364.5,106.8 365.0,106.8 365.5,106.6 366.0,107.0 366.5,106.6 367.0,107.4 367.5,106.7 368.0,105.7 368.5,107.7 369.0,107.1 369.5,106.5 370.0,107.1 370.5,106.8 371.0,108.6 371.5,107.8 372.0,106.7 372.1,107.9 372.5,107.4 373.0,108.7 373.5,107.0 374.0,106.4 374.5,107.7 375.0,107.5 375.5,107.4 376.0,106.5 376.5,107.9 377.0,108.6 377.5,106.6 378.0,108.3 378.5,107.4 379.0,109.0 379.5,108.0 380.0,107.6 380.5,108.3 381.0,108.0 381.5,107.4 382.0,108.1 382.5,107.5 383.0,106.8 383.5,108.9 384.0,107.6 384.5,107.5 385.0,108.0 385.5,106.9 386.0,107.0 386.5,107.5 387.0,107.4 387.5,107.7 388.0,108.3 388.5,107.4 389.0,107.9 389.5,107.9 390.0,107.0 390.5,107.7 391.0,107.0 391.5,108.1 392.0,107.7 392.5,107.4 393.0,106.7 393.5,107.4 394.0,106.9 394.5,107.7 395.0,107.2 395.5,106.8 396.0,107.8 396.5,107.6 397.0,106.9 397.5,107.8 398.0,107.0 398.5,107.0 399.0,107.2 399.5,106.7 400.0,106.8 400.5,107.0 401.0,107.9 401.5,107.8 402.0,106.9 402.5,107.7 403.0,106.7 403.5,106.8 404.0,106.9 404.5,106.5 405.0,107.5 405.5,106.1 405.9,105.2 406.0,106.7 406.5,105.9 407.0,106.2 407.5,105.0 408.0,107.4 408.5,107.5 409.0,107.7 409.5,107.9 410.0,108.3 410.5,107.4 411.0,107.9 411.5,107.0 412.0,107.3 412.5,108.1 413.0,107.7 413.5,106.8 414.0,107.8 414.5,107.5 415.0,107.2 415.5,107.9 416.0,107.5 416.5,106.9 417.0,107.1 417.5,108.8 418.0,107.0 418.5,108.0 419.0,108.2 419.5,108.2 420.0,107.2 420.5,107.8 421.0,108.1 421.5,108.4 422.0,107.7 422.5,107.4 423.0,108.6 423.5,108.7 424.0,108.3 424.5,107.8 425.0,108.4 425.5,108.3 426.0,108.6 426.5,107.5 427.0,108.2 427.5,108.1 428.0,107.5 428.5,108.3 429.0,108.2 429.5,107.9 430.0,108.4 430.5,107.3 431.0,108.1 431.5,108.4 432.0,108.3 432.5,108.7 433.0,107.4 433.5,107.3 434.0,108.2 434.5,108.3 435.0,109.2 435.5,108.4 436.0,107.6 436.5,108.5 437.0,107.6 437.5,107.2 438.0,109.5 438.5,108.2 439.0,108.4 439.5,108.3 440.0,109.0 440.5,108.1 441.0,108.5 441.5,107.2 442.0,106.9 442.5,108.4 443.0,108.4 443.5,107.8 444.0,107.5 444.5,107.4 445.0,106.9 445.5,108.1 446.0,107.5 446.5,107.3 447.0,107.2 447.5,107.5 448.0,107.1 448.3,107.2 448.5,106.1 449.0,107.0 449.5,107.9 450.0,106.4 450.5,106.6 451.0,107.2 451.5,107.2 452.0,107.0 452.5,105.7 453.0,106.9 453.5,105.9 454.0,106.1 454.5,106.8 455.0,106.3 455.5,106.9 456.0,108.1 456.5,106.7 457.0,106.6 457.5,105.6 458.0,105.7 458.5,105.4 459.0,105.6" fill="none" stroke="#00f" stroke-width="1.45" stroke-linejoin="round"/>
<rect x="42.2" y="4.5" width="417.3" height="286.1" fill="none" stroke="#000" stroke-width="1.9"/>
<line x1="42.20" y1="290.6" x2="42.20" y2="296.40000000000003" stroke="#000" stroke-width="1.8"/>
<line x1="72.01" y1="290.6" x2="72.01" y2="294.1" stroke="#000" stroke-width="1.8"/>
<line x1="101.81" y1="290.6" x2="101.81" y2="296.40000000000003" stroke="#000" stroke-width="1.8"/>
<line x1="131.62" y1="290.6" x2="131.62" y2="294.1" stroke="#000" stroke-width="1.8"/>
<line x1="161.43" y1="290.6" x2="161.43" y2="296.40000000000003" stroke="#000" stroke-width="1.8"/>
<line x1="191.24" y1="290.6" x2="191.24" y2="294.1" stroke="#000" stroke-width="1.8"/>
<line x1="221.04" y1="290.6" x2="221.04" y2="296.40000000000003" stroke="#000" stroke-width="1.8"/>
<line x1="250.85" y1="290.6" x2="250.85" y2="294.1" stroke="#000" stroke-width="1.8"/>
<line x1="280.66" y1="290.6" x2="280.66" y2="296.40000000000003" stroke="#000" stroke-width="1.8"/>
<line x1="310.46" y1="290.6" x2="310.46" y2="294.1" stroke="#000" stroke-width="1.8"/>
<line x1="340.27" y1="290.6" x2="340.27" y2="296.40000000000003" stroke="#000" stroke-width="1.8"/>
<line x1="370.08" y1="290.6" x2="370.08" y2="294.1" stroke="#000" stroke-width="1.8"/>
<line x1="399.89" y1="290.6" x2="399.89" y2="296.40000000000003" stroke="#000" stroke-width="1.8"/>
<line x1="429.69" y1="290.6" x2="429.69" y2="294.1" stroke="#000" stroke-width="1.8"/>
<line x1="459.50" y1="290.6" x2="459.50" y2="296.40000000000003" stroke="#000" stroke-width="1.8"/>
<text transform="translate(42.40,309.3) scale(1.06,1)" font-size="12" stroke="#000" stroke-width="0.2" text-anchor="middle">10</text>
<text transform="translate(102.01,309.3) scale(1.06,1)" font-size="12" stroke="#000" stroke-width="0.2" text-anchor="middle">20</text>
<text transform="translate(161.63,309.3) scale(1.06,1)" font-size="12" stroke="#000" stroke-width="0.2" text-anchor="middle">30</text>
<text transform="translate(221.24,309.3) scale(1.06,1)" font-size="12" stroke="#000" stroke-width="0.2" text-anchor="middle">40</text>
<text transform="translate(280.86,309.3) scale(1.06,1)" font-size="12" stroke="#000" stroke-width="0.2" text-anchor="middle">50</text>
<text transform="translate(340.47,309.3) scale(1.06,1)" font-size="12" stroke="#000" stroke-width="0.2" text-anchor="middle">60</text>
<text transform="translate(400.09,309.3) scale(1.06,1)" font-size="12" stroke="#000" stroke-width="0.2" text-anchor="middle">70</text>
<text transform="translate(459.70,309.3) scale(1.06,1)" font-size="12" stroke="#000" stroke-width="0.2" text-anchor="middle">80</text>
<line x1="67.9" y1="71.3" x2="88.1" y2="61.9" stroke="#000" stroke-width="1.5"/>
<line x1="318.4" y1="95.2" x2="317" y2="101.7" stroke="#555" stroke-width="0.6"/>
<line x1="323.5" y1="16.9" x2="353.3" y2="16.9" stroke="#00f" stroke-width="1.3"/>
<line x1="323.5" y1="34.7" x2="353.3" y2="34.7" stroke="#f00" stroke-width="1.3"/>
<line x1="323.5" y1="52.8" x2="353.3" y2="52.8" stroke="#000" stroke-width="1.3"/>
<text transform="translate(357.6,21.8) scale(0.965,1)" font-size="13.9" stroke="#000" stroke-width="0.25">GCOOH-WO<tspan font-size="9.8" dy="2.8">3</tspan><tspan dy="-2.8">-3</tspan></text>
<text transform="translate(357.6,39.8) scale(0.965,1)" font-size="13.9" stroke="#000" stroke-width="0.25">GCOOH-WO<tspan font-size="9.8" dy="2.8">3</tspan><tspan dy="-2.8">-2</tspan></text>
<text transform="translate(357.6,57.8) scale(0.965,1)" font-size="13.9" stroke="#000" stroke-width="0.25">GCOOH-WO<tspan font-size="9.8" dy="2.8">3</tspan><tspan dy="-2.8">-1</tspan></text>
<text transform="translate(91.4,61.0) rotate(-90)" font-size="10.9" stroke="#000" stroke-width="0.2">(100)</text>
<text transform="translate(123.6,72.2) rotate(-90)" font-size="10.9" stroke="#000" stroke-width="0.2">(001)</text>
<text transform="translate(130.7,96.0) rotate(-90)" font-size="10.9" stroke="#000" stroke-width="0.2">(110)</text>
<text transform="translate(144.2,77.4) rotate(-90)" font-size="10.9" stroke="#000" stroke-width="0.2">(101)</text>
<text transform="translate(152.5,45.9) rotate(-90)" font-size="10.9" stroke="#000" stroke-width="0.2">(200)</text>
<text transform="translate(204.5,80.9) rotate(-90)" font-size="10.9" stroke="#000" stroke-width="0.2">(201)</text>
<text transform="translate(281.5,91.2) rotate(-90)" font-size="10.9" stroke="#000" stroke-width="0.2">(220)</text>
<text transform="translate(319.7,96.3) rotate(-90)" font-size="10.9" stroke="#000" stroke-width="0.2">(204)</text>
<text x="289.7" y="253.2" font-size="13.1">h-WO<tspan x="323.1" y="257" font-size="12.8">3</tspan><tspan x="329.3" y="252.6" font-size="9.5">(</tspan><tspan x="333" y="252.8" font-size="12.2" textLength="111.7" lengthAdjust="spacingAndGlyphs">JCPDS:00-033-1387</tspan><tspan x="445.2" y="252.8" font-size="12.5" style="font-weight:normal">)</tspan></text>
<text transform="translate(251,337.3) scale(1.045,1)" font-size="19.6" stroke="#000" stroke-width="0.2" text-anchor="middle">2 Theta (degrees)</text>
<text transform="translate(21.2,147.2) scale(1,0.975) rotate(-90)" font-size="19.2" text-anchor="middle">Intensity (a.u.)</text>
</svg>
</body></html>
